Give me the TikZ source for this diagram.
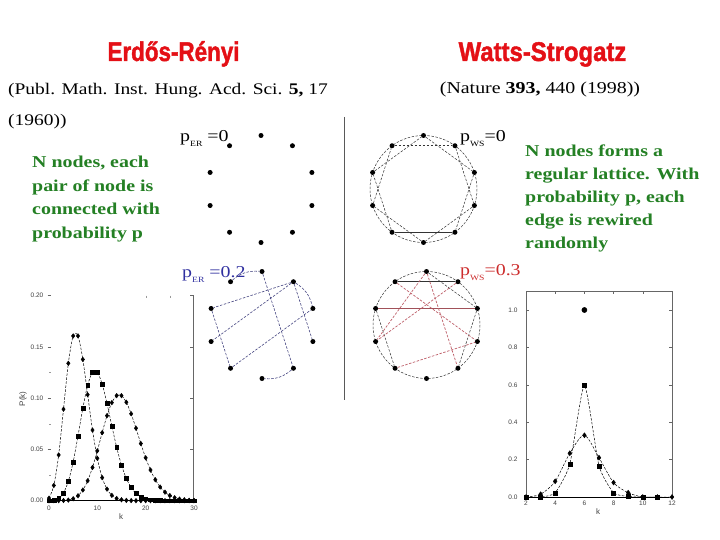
\documentclass[tikz,border=0pt]{standalone}
\usepackage{fontspec}
\setmainfont{Liberation Serif}[FakeStretch=1.2]
\newfontfamily\plotfont{Liberation Sans}
\newfontfamily\titlefont{Liberation Sans}[BoldFeatures={FakeBold=1.6}]
\usetikzlibrary{plotmarks}
\definecolor{titlered}{RGB}{228,16,22}
\definecolor{txtgreen}{RGB}{36,128,36}
\definecolor{erblue}{RGB}{48,48,160}
\definecolor{erline}{RGB}{70,70,130}
\definecolor{wsred}{RGB}{205,45,45}
\definecolor{wsline}{RGB}{190,95,105}
\begin{document}
\begin{tikzpicture}[x=1pt,y=-1pt,
  vdot/.style={circle,fill=black,inner sep=0pt,minimum size=5pt},
  titletxt/.style={anchor=base,inner sep=0pt,text=titlered,font=\titlefont\bfseries\fontsize{27}{30}\selectfont},
  citetxt/.style={inner sep=0pt,align=left,font=\fontsize{16.6}{31.5}\selectfont},
  greentxt/.style={anchor=north west,inner sep=0pt,align=left,text=txtgreen},
  plab/.style={anchor=base west,inner sep=0pt,font=\fontsize{16.6}{20}\selectfont},
  eredge/.style={draw=erline,dash pattern=on 2.5pt off 1.5pt,line width=0.6pt},
  wsedge/.style={draw=black!80,dash pattern=on 2.5pt off 1.5pt,line width=0.5pt},
  wsrededge/.style={draw=wsline,dash pattern=on 2.5pt off 1.5pt,line width=0.7pt},
  ticklab/.style={inner sep=0pt,text=black!75,font=\plotfont\fontsize{6.5}{7}\selectfont},
  curve/.style={dash pattern=on 2.5pt off 1.5pt,line width=0.5pt,smooth,tension=0.5},
  axline/.style={draw=black!60,line width=0.6pt}
]
\useasboundingbox (0,0) rectangle (720,540);
\fill[white] (0,0) rectangle (720,540);

% titles and citations
\node[titletxt] (ertitle) at (173.5,61) {\scalebox{0.83}[1]{Erdős-Rényi}};
\node[titletxt] (wstitle) at (542.5,61) {\scalebox{0.885}[1]{Watts-Strogatz}};
\node[citetxt,anchor=north west,font=\fontsize{16.2}{31.5}\selectfont] (ercite) at (8,83) {(Publ. Math. Inst. Hung. Acd. Sci. \textbf{5,} 17\\(1960))};
\node[citetxt,anchor=base] (wscite) at (540,94) {(Nature \textbf{393,} 440 (1998))};

% divider
\coordinate (divtop) at (344,117);
\coordinate (divbot) at (344,400);
\draw[black!65,line width=1pt] (divtop) -- (divbot);

% descriptions
\node[greentxt,font=\bfseries\fontsize{16.6}{23.8}\selectfont] (erdesc) at (32,155.5)
  {N nodes, each\\pair of node is\\connected with\\probability p};
\node[greentxt,font=\bfseries\fontsize{16.6}{23}\selectfont] (wsdesc) at (525,144.8)
  {N nodes forms a\\regular lattice. With\\probability p, each\\edge is rewired\\randomly};

% p labels
\node[plab] (erl0) at (180,142) {p\raisebox{-5pt}{\fontsize{8}{9}\selectfont ER} =0};
\node[plab,text=erblue] (erl2) at (182,277) {p\raisebox{-5pt}{\fontsize{8}{9}\selectfont ER} =0.2};
\node[plab] (wsl0) at (460,142) {p\raisebox{-5pt}{\fontsize{8}{9}\selectfont WS}=0};
\node[plab,text=wsred] (wsl3) at (460,275) {p\raisebox{-5pt}{\fontsize{8}{9}\selectfont WS}=0.3};

% ER p=0
\foreach \i in {0,...,9}{
  \pgfmathsetmacro\ang{90-36*\i}
  \node[vdot] (a\i) at ({261+53.5*cos(\ang)},{189-53.5*sin(\ang)}) {};
}
% ER p=0.2
\foreach \i in {0,...,9}{
  \pgfmathsetmacro\ang{90-36*\i}
  \node[vdot] (b\i) at ({262+53.5*cos(\ang)},{325-53.5*sin(\ang)}) {};
}
\draw[eredge] (b9) to[bend left=22] (b0);
\draw[eredge] (b1) to[bend left=22] (b2);
\draw[eredge] (b4) to[bend left=22] (b5);
\draw[eredge] (b0) -- (b4);
\draw[eredge] (b1) -- (b8);
\draw[eredge] (b1) -- (b7);
\draw[eredge] (b1) -- (b3);
\draw[eredge] (b8) -- (b6);
\draw[eredge] (b6) -- (b2);

% WS p=0
\coordinate (wc0) at (423.5,189);
\draw[wsedge] (wc0) circle[radius=53.5];
\foreach \i in {0,...,9}{
  \pgfmathsetmacro\ang{90-36*\i}
  \node[vdot] (c\i) at ({423.5+53.5*cos(\ang)},{189-53.5*sin(\ang)}) {};
}
\foreach \i/\j in {0/2,1/3,2/4,3/5,5/7,6/8,7/9,8/0,9/1}{
  \draw[wsedge] (c\i) -- (c\j);
}
\draw[black!80,line width=0.6pt] (c4) -- (c6);

% WS p=0.3
\coordinate (wc3) at (426.5,325);
\draw[wsedge] (wc3) circle[radius=53.5];
\foreach \i in {0,...,9}{
  \pgfmathsetmacro\ang{90-36*\i}
  \node[vdot] (d\i) at ({426.5+53.5*cos(\ang)},{325-53.5*sin(\ang)}) {};
}
\draw[black!80,line width=0.6pt] (d9) -- (d1);
\draw[draw=wsline!85!black,line width=1.1pt] (d8) -- (d2);
\draw[wsedge] (d0) -- (d2);
\draw[wsedge] (d8) -- (d6);
\draw[wsedge] (d2) -- (d4);
\draw[wsrededge] (d0) -- (d4);
\draw[wsrededge] (d0) -- (d7);
\draw[wsrededge] (d9) -- (d3);
\draw[wsrededge] (d1) -- (d7);
\draw[wsrededge] (d6) -- (d3);

% ---------- left plot (ER degree distribution)
\coordinate (lpo) at (49,500.7);
\coordinate (lpr) at (193,500.7);
\coordinate (lprt) at (193,295);
\draw[black,line width=0.7pt] (lpo) -- (lpr);
\draw[axline] (lpr) -- (lprt);
\foreach \v/\y in {0.00/500.7,0.05/449.4,0.10/398.1,0.15/346.8,0.20/295.5}{
  \node[ticklab] at (37,\y) {\v};
  \draw[black!60] (47.5,\y) -- (50.5,\y);
  \draw[black!60] (190,\y) -- (193,\y);
}
\foreach \y in {475,423.7,372.4}{
  \draw[black!40] (49,\y) -- (50.5,\y);
}
\foreach \v/\x in {0/49,10/97.3,20/145.7,30/194}{
  \node[ticklab] at (\x,508.5) {\v};
}
\foreach \x in {145.7,169.8}{ \draw[black!40] (\x,295.5) -- (\x,297.5); }
\node[ticklab,font=\plotfont\fontsize{8}{9}\selectfont] (lk) at (121,516.5) {k};
\node[ticklab,font=\plotfont\fontsize{8}{9}\selectfont,rotate=90] (lpk) at (23,399) {P(k)};
\begin{scope}[shift={(49,500.7)},x=4.833pt,y=1026pt]
\draw[curve] plot coordinates {(0,0.0025) (1,0.0149) (2,0.0446) (3,0.0892) (4,0.1339) (5,0.1606) (6,0.1606) (7,0.1377) (8,0.1033) (9,0.0688) (10,0.0413) (11,0.0225) (12,0.0113) (13,0.0052) (14,0.0022) (15,0.0009) (16,0.0003) (17,0.0001) (18,0) (19,0) (20,0) (21,0) (22,0) (23,0) (24,0) (25,0) (26,0) (27,0) (28,0) (29,0) (30,0)};
\draw[curve] plot coordinates {(0,0) (1,0.0005) (2,0.0023) (3,0.0076) (4,0.0189) (5,0.0378) (6,0.0631) (7,0.0901) (8,0.1126) (9,0.1251) (10,0.1251) (11,0.1137) (12,0.0948) (13,0.0729) (14,0.0521) (15,0.0347) (16,0.0217) (17,0.0128) (18,0.0071) (19,0.0037) (20,0.0019) (21,0.0009) (22,0.0004) (23,0.0002) (24,0) (25,0) (26,0) (27,0) (28,0) (29,0) (30,0)};
\draw[curve] plot coordinates {(0,0) (1,0) (2,0) (3,0.0002) (4,0.0006) (5,0.0019) (6,0.0048) (7,0.0104) (8,0.0194) (9,0.0324) (10,0.0486) (11,0.0663) (12,0.0829) (13,0.0956) (14,0.1024) (15,0.1024) (16,0.0960) (17,0.0847) (18,0.0706) (19,0.0557) (20,0.0418) (21,0.0299) (22,0.0204) (23,0.0133) (24,0.0083) (25,0.0050) (26,0.0029) (27,0.0016) (28,0.0009) (29,0.0004) (30,0.0002)};
\draw plot[only marks,mark=diamond*,mark size=2.3pt] coordinates {(0,0.0025) (1,0.0149) (2,0.0446) (3,0.0892) (4,0.1339) (5,0.1606) (6,0.1606) (7,0.1377) (8,0.1033) (9,0.0688) (10,0.0413) (11,0.0225) (12,0.0113) (13,0.0052) (14,0.0022) (15,0.0009) (16,0.0003) (17,0.0001) (18,0) (19,0) (20,0) (21,0) (22,0) (23,0) (24,0) (25,0) (26,0) (27,0) (28,0) (29,0) (30,0)};
\draw plot[only marks,mark=square*,mark size=1.9pt] coordinates {(0,0) (1,0.0005) (2,0.0023) (3,0.0076) (4,0.0189) (5,0.0378) (6,0.0631) (7,0.0901) (8,0.1126) (9,0.1251) (10,0.1251) (11,0.1137) (12,0.0948) (13,0.0729) (14,0.0521) (15,0.0347) (16,0.0217) (17,0.0128) (18,0.0071) (19,0.0037) (20,0.0019) (21,0.0009) (22,0.0004) (23,0.0002) (24,0) (25,0) (26,0) (27,0) (28,0) (29,0) (30,0)};
\draw plot[only marks,mark=diamond*,mark size=2.3pt] coordinates {(0,0) (1,0) (2,0) (3,0.0002) (4,0.0006) (5,0.0019) (6,0.0048) (7,0.0104) (8,0.0194) (9,0.0324) (10,0.0486) (11,0.0663) (12,0.0829) (13,0.0956) (14,0.1024) (15,0.1024) (16,0.0960) (17,0.0847) (18,0.0706) (19,0.0557) (20,0.0418) (21,0.0299) (22,0.0204) (23,0.0133) (24,0.0083) (25,0.0050) (26,0.0029) (27,0.0016) (28,0.0009) (29,0.0004) (30,0.0002)};
\end{scope}

% ---------- right plot (WS degree distribution)
\coordinate (rpa) at (526,291);
\coordinate (rpb) at (672,497);
\draw[axline] (rpa) rectangle (rpb);
\draw[black,line width=0.7pt] (526,497) -- (672,497);
\foreach \v/\y in {0.0/497,0.2/459.6,0.4/422.2,0.6/384.8,0.8/347.4,1.0/310}{
  \node[ticklab] at (513,\y) {\v};
  \draw[black!60] (526,\y) -- (529,\y);
  \draw[black!60] (669,\y) -- (672,\y);
}
\foreach \v/\x in {2/526,4/555.2,6/584.4,8/613.6,10/642.8,12/672}{
  \node[ticklab] at (\x,503.5) {\v};
  \draw[black!60] (\x,291) -- (\x,294);
}
\node[ticklab,font=\plotfont\fontsize{8}{9}\selectfont] (rk) at (598,512) {k};
\begin{scope}[shift={(496.8,497)},x=14.6pt,y=187pt]
\draw[curve] plot coordinates {(2,0) (3,0.015) (4,0.084) (5,0.234) (6,0.33) (7,0.21) (8,0.077) (9,0.023) (10,0) (11,0) (12,0)};
\draw[curve,tension=0.35] plot coordinates {(2,0) (3,0) (4,0.023) (5,0.176) (6,0.597) (7,0.167) (8,0.023) (9,0.003) (10,0) (11,0)};
\draw plot[only marks,mark=diamond*,mark size=2.5pt] coordinates {(2,0) (3,0.015) (4,0.084) (5,0.234) (6,0.33) (7,0.21) (8,0.077) (9,0.023) (10,0) (11,0) (12,0)};
\draw plot[only marks,mark=square*,mark size=2pt] coordinates {(2,0) (3,0) (4,0.023) (5,0.176) (6,0.597) (7,0.167) (8,0.023) (9,0.003) (10,0) (11,0)};
\draw plot[only marks,mark=*,mark size=2.6pt] coordinates {(6,1.0)};
\end{scope}
\end{tikzpicture}
\end{document}
